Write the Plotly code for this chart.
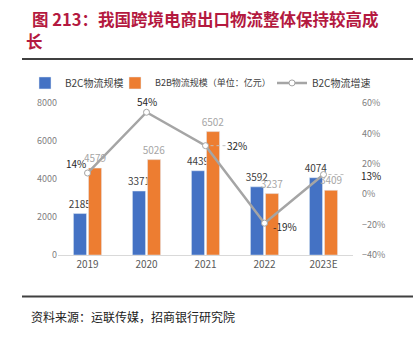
import plotly.graph_objects as go

years = ["2019", "2020", "2021", "2022", "2023E"]
b2c = [2185, 3371, 4439, 3592, 4074]
b2b = [4579, 5026, 6502, 3237, 3409]
growth = [14, 54, 32, -19, 13]

W, H = 417, 337
def px(x): return x / W
def py(y): return 1 - y / H

BLUE = "#4472C4"
ORANGE = "#ED7D31"
GRAY = "#A5A5A5"
FONT = "Noto Sans CJK SC"

fig = go.Figure()
fig.add_trace(go.Bar(
    x=years, y=b2c, name="B2C物流规模", marker_color=BLUE,
    text=[str(v) for v in b2c], textposition="outside", constraintext="none",
    textfont=dict(size=10, color="#404040", family=FONT), cliponaxis=False,
    legend="legend",
))
fig.add_trace(go.Bar(
    x=years, y=b2b, name="B2B物流规模（单位：亿元）", marker_color=ORANGE,
    text=[str(v) for v in b2b], textposition="outside", constraintext="none",
    textfont=dict(size=10, color="#A6A6A6", family=FONT), cliponaxis=False,
    legend="legend2",
))
fig.add_trace(go.Scatter(
    x=years, y=growth, name="B2C物流增速", yaxis="y2", mode="lines+markers",
    line=dict(color=GRAY, width=2.5),
    marker=dict(symbol="circle", size=6, color="white", line=dict(width=1, color=GRAY)),
    legend="legend3",
))

# growth labels (x given as category index)
offsets = [(-12, 10), (0, 11), (31, 0), (20, -3), (47, -1)]
for i, (g, (dx, dy)) in enumerate(zip(growth, offsets)):
    fig.add_annotation(x=i, y=g, xref="x", yref="y2", text=f"{g}%",
                       showarrow=False, xshift=dx, yshift=dy,
                       font=dict(size=10, color="#262626", family=FONT))
# dotted leader lines for labels on the right
for i in (2, 4):
    fig.add_shape(type="line", xref="x", yref="y2", xsizemode="pixel", xanchor=i,
                  x0=5, x1=22, y0=growth[i], y1=growth[i],
                  line=dict(color="#BFBFBF", width=1, dash="dot"))

# title
fig.add_annotation(x=px(30), y=py(13), xref="paper", yref="paper",
                   text="<b>图 213：我国跨境电商出口物流整体保持较高成</b>",
                   showarrow=False, xanchor="left", yanchor="middle",
                   font=dict(size=16.5, color="#B4193F", family=FONT))
fig.add_annotation(x=px(24), y=py(35), xref="paper", yref="paper",
                   text="<b>长</b>", showarrow=False, xanchor="left", yanchor="middle",
                   font=dict(size=16.5, color="#B4193F", family=FONT))
# source
fig.add_annotation(x=px(29), y=py(322), xref="paper", yref="paper",
                   text="资料来源：运联传媒，招商银行研究院", showarrow=False,
                   xanchor="left", yanchor="middle",
                   font=dict(size=12, color="#222222", family=FONT))
# rules
for yy in (54, 301):
    fig.add_shape(type="line", xref="paper", yref="paper",
                  x0=px(22), x1=px(413), y0=py(yy), y1=py(yy),
                  line=dict(color="#404040", width=2))

def leg(x, size):
    return dict(orientation="h", x=px(x), y=py(79), xanchor="left", yanchor="middle",
                font=dict(size=size, color="#404040", family=FONT),
                itemwidth=30, bgcolor="rgba(0,0,0,0)")

fig.update_layout(
    width=W, height=H,
    margin=dict(l=0, r=0, t=0, b=0),
    paper_bgcolor="white", plot_bgcolor="white",
    barmode="group", bargap=0.49, bargroupgap=0.13,
    font=dict(family=FONT, color="#595959"),
    showlegend=True,
    legend=leg(25, 10),
    legend2=leg(115, 9),
    legend3=leg(272, 10),
    xaxis=dict(domain=[px(58), px(353)], type="category", categoryorder="array",
               categoryarray=years, range=[-0.5, len(years) - 0.5],
               showgrid=False, showline=True,
               linecolor="#D9D9D9", linewidth=1,
               tickfont=dict(size=10, color="#595959")),
    yaxis=dict(domain=[py(258), py(100)], range=[0, 8000], dtick=2000,
               showgrid=False, zeroline=False, showline=False,
               tickfont=dict(size=9, color="#7F7F7F")),
    yaxis2=dict(overlaying="y", side="right", range=[-40, 60], dtick=20,
                ticksuffix="%", showgrid=False, zeroline=False, showline=False,
                tickfont=dict(size=9, color="#7F7F7F"), ticklabelstandoff=8),
)

fig.write_html("out.html")
